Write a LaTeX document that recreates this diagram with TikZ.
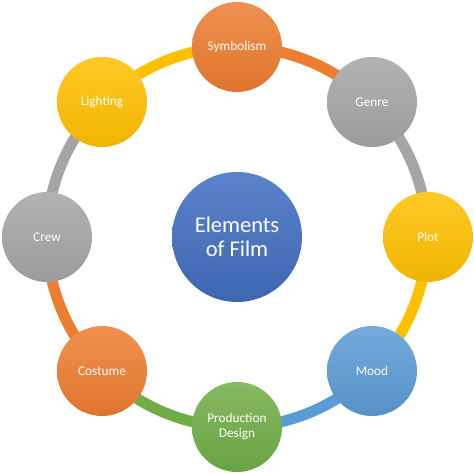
\documentclass[tikz,border=0pt]{standalone}
\usepackage{fontspec}
\setmainfont{Carlito}
\definecolor{cOrange}{HTML}{ED7D31}
\definecolor{cGrey}{HTML}{A5A5A5}
\definecolor{cYellow}{HTML}{FFC000}
\definecolor{cBlue}{HTML}{5B9BD5}
\definecolor{cGreen}{HTML}{70AD47}
\definecolor{cCenter}{HTML}{4472C4}
\tikzset{
  elem/.style={circle, minimum size=90pt, inner sep=0pt, text=white, font=\fontsize{13.3}{15}\selectfont, align=center,
    top color=#1!85!white, bottom color=#1!94!black},
  hub/.style={circle, minimum size=130pt, inner sep=0pt, text=white, font=\fontsize{22.5}{24}\selectfont, align=center,
    top color=#1!88!white, bottom color=#1!90!black},
  ring/.style={draw=#1, line width=11pt}
}
\begin{document}
\begin{tikzpicture}[x=1pt,y=-1pt]
\useasboundingbox (0,0) rectangle (474,473);
\coordinate (c) at (237,237);
% ring arcs (y axis points down: angles measured clockwise)
\draw[ring=cOrange] (c) ++(-90:190) arc[start angle=-90, end angle=-45, radius=190];
\draw[ring=cGrey]   (c) ++(-45:190) arc[start angle=-45, end angle=0, radius=190];
\draw[ring=cYellow] (c) ++(0:190) arc[start angle=0, end angle=45, radius=190];
\draw[ring=cBlue]   (c) ++(45:190) arc[start angle=45, end angle=90, radius=190];
\draw[ring=cGreen]  (c) ++(90:190) arc[start angle=90, end angle=135, radius=190];
\draw[ring=cOrange] (c) ++(135:190) arc[start angle=135, end angle=180, radius=190];
\draw[ring=cGrey]   (c) ++(180:190) arc[start angle=180, end angle=225, radius=190];
\draw[ring=cYellow] (c) ++(225:190) arc[start angle=225, end angle=270, radius=190];
% nodes
\node[hub=cCenter] (hub) at (c) {Elements\\of Film};
\node[elem=cOrange] (symbolism) at (237,47) {Symbolism};
\node[elem=cGrey] (genre) at (372,102) {Genre};
\node[elem=cYellow] (plot) at (428,237) {Plot};
\node[elem=cBlue] (mood) at (372,371) {Mood};
\node[elem=cGreen] (prod) at (237,427) {Production\\Design};
\node[elem=cOrange] (costume) at (102,371) {Costume};
\node[elem=cGrey] (crew) at (47,237) {Crew};
\node[elem=cYellow] (lighting) at (102,102) {Lighting};
\end{tikzpicture}
\end{document}
